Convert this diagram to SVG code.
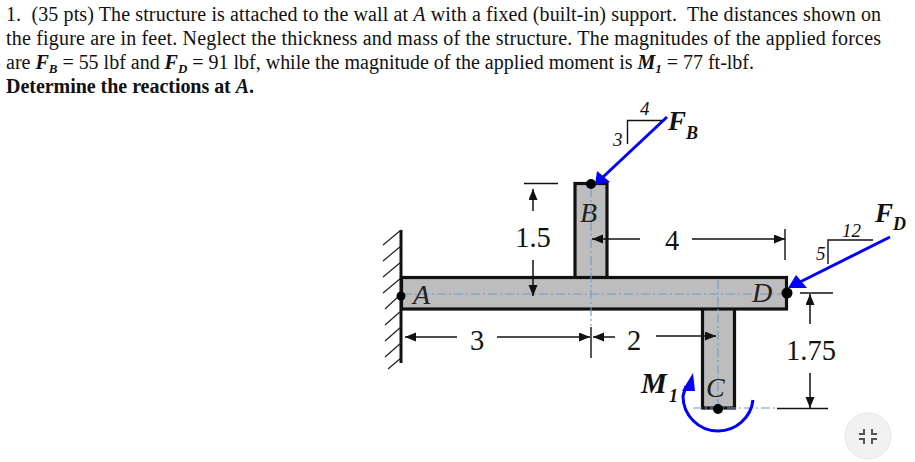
<svg xmlns="http://www.w3.org/2000/svg" width="915" height="462" viewBox="0 0 915 462">
<defs>
<style>
text{font-family:"Liberation Serif","Times New Roman",serif;fill:#111;white-space:pre}
.t{font-size:20px}
.d{font-size:28.500px;text-anchor:middle}
.l{font-size:28px;font-style:italic;fill:#222}
.s{font-size:19px;font-style:italic}
.f{font-style:italic;font-weight:bold}
.b{fill:#bdbdbd;stroke:#111;stroke-width:3.2}
.c{fill:none;stroke:#6f9bd1;stroke-width:1.1;stroke-dasharray:9 3 2 3}
.k{fill:none;stroke:#111;stroke-width:1.4}
.a{fill:none;stroke:#111;stroke-width:1.5;marker-end:url(#ah)}
.u{fill:none;stroke:#00f;stroke-width:3}
.h{fill:none;stroke:#222;stroke-width:1.2}
.dot{fill:#000}
</style>
<marker id="ah" markerUnits="userSpaceOnUse" markerWidth="12" markerHeight="10" refX="11" refY="4.5" orient="auto"><path d="M0,0L11,4.5L0,9z" fill="#111"/></marker>
</defs>
<rect width="915" height="462" fill="#fff"/>
<g id="problem-text">
<text class="t" x="6" y="21" textLength="875">1.  (35 pts) The structure is attached to the wall at <tspan font-style="italic">A</tspan> with a fixed (built-in) support.  The distances shown on</text>
<text class="t" x="6" y="45" textLength="875">the figure are in feet. Neglect the thickness and mass of the structure. The magnitudes of the applied forces</text>
<text class="t" x="6" y="69" textLength="748"><tspan>are </tspan><tspan class="f">F</tspan><tspan class="f" font-size="13" dy="4">B</tspan><tspan dy="-4"> = 55 lbf and </tspan><tspan class="f">F</tspan><tspan class="f" font-size="13" dy="4">D</tspan><tspan dy="-4"> = 91 lbf, while the magnitude of the applied moment is </tspan><tspan class="f">M</tspan><tspan class="f" font-size="13" dy="4">1</tspan><tspan dy="-4"> = 77 ft-lbf.</tspan></text>
<text class="t" x="6" y="93" font-weight="bold" textLength="248">Determine the reactions at <tspan font-style="italic">A</tspan>.</text>
</g>
<g id="wall">
<path d="M401,230V363" fill="none" stroke="#111" stroke-width="3"/>
<path class="h" d="M401,230L383,245M401,246L383,261M401,262L383,277M401,278L383,293M401,294L385,309M401,311L385,325M401,327L385,341M401,343L385,357M401,358L388,369"/>
</g>
<g id="post-b"><rect class="b" x="575" y="183.500" width="32" height="100"/><text class="l" x="580" y="222">B</text></g>
<g id="post-c"><rect class="b" x="702.500" y="300" width="32" height="108"/><text class="l" x="706" y="397">C</text></g>
<g id="beam"><rect class="b" x="401.500" y="277.500" width="385" height="31.500"/></g>
<g id="centerlines">
<path class="c" d="M403,294H787"/>
<path class="c" d="M591,188V326"/>
<path class="c" d="M718,280V408"/>
<path class="c" d="M693,408H776"/>
</g>
<g id="node-a"><circle class="dot" cx="401" cy="296" r="4.500"/><text class="l" x="413" y="304">A</text></g>
<g id="node-b"><circle class="dot" cx="591" cy="184" r="5"/></g>
<g id="node-c"><circle class="dot" cx="718" cy="409" r="5"/></g>
<g id="node-d"><circle class="dot" cx="787" cy="293" r="5.500"/><text class="l" x="752" y="302">D</text></g>
<g id="connectors">
<path class="k" d="M524,183.500H558M591,327V358M785,229V260M800,293H833M777,408.500H828"/>
<path class="a" d="M533,211V189"/>
<path class="a" d="M533,260V296"/>
<path class="a" d="M640,239H592"/>
<path class="a" d="M692,239H785"/>
<path class="a" d="M457,337H405"/>
<path class="a" d="M497,337H590"/>
<path class="a" d="M615,337H593"/>
<path class="a" d="M656,336H716"/>
<path class="a" d="M810,324V294"/>
<path class="a" d="M810,373V408"/>
<path class="u" d="M667,117L603,177"/><path d="M595,185L597,171L610,182z" fill="#00f"/>
<path class="u" d="M890,237L800,282"/><path d="M788,288L796,275L807,288z" fill="#00f"/>
<path class="u" d="M753,400A35,35 0 0 0 753,400M753,400A35,35 0 0 1 718,431A35,35 0 0 1 683,396L686,386"/><path d="M693,373L682,391L695,391z" fill="#00f"/>
<path class="k" d="M662,120.500H627.500V144"/>
<path class="k" d="M873,240H828V264"/>
</g>
<g id="labels">
<text class="d" x="533" y="247">1.5</text>
<text class="d" x="477" y="350">3</text>
<text class="d" x="634" y="350">2</text>
<text class="d" x="672" y="250">4</text>
<text class="d" x="811" y="360">1.75</text>
<text class="s" x="613" y="146">3</text>
<text class="s" x="640" y="115">4</text>
<text class="s" x="842" y="237">12</text>
<text class="s" x="816" y="260">5</text>
<text class="f" x="668" y="130" font-size="27">F</text><text class="f" x="686" y="139" font-size="18">B</text>
<text class="f" x="875" y="222" font-size="27">F</text><text class="f" x="893" y="230" font-size="18">D</text>
<text class="f" x="641" y="393" font-size="29">M</text><text class="f" x="669" y="402" font-size="18">1</text>
</g>
<g id="collapse-button">
<circle cx="868" cy="436" r="23" fill="#f1f1f1" stroke="#e6e6e6"/>
<path d="M864,429V434H859M872,429V434H877M864,444V439H859M872,444V439H877" fill="none" stroke="#555" stroke-width="2"/>
</g>
</svg>
